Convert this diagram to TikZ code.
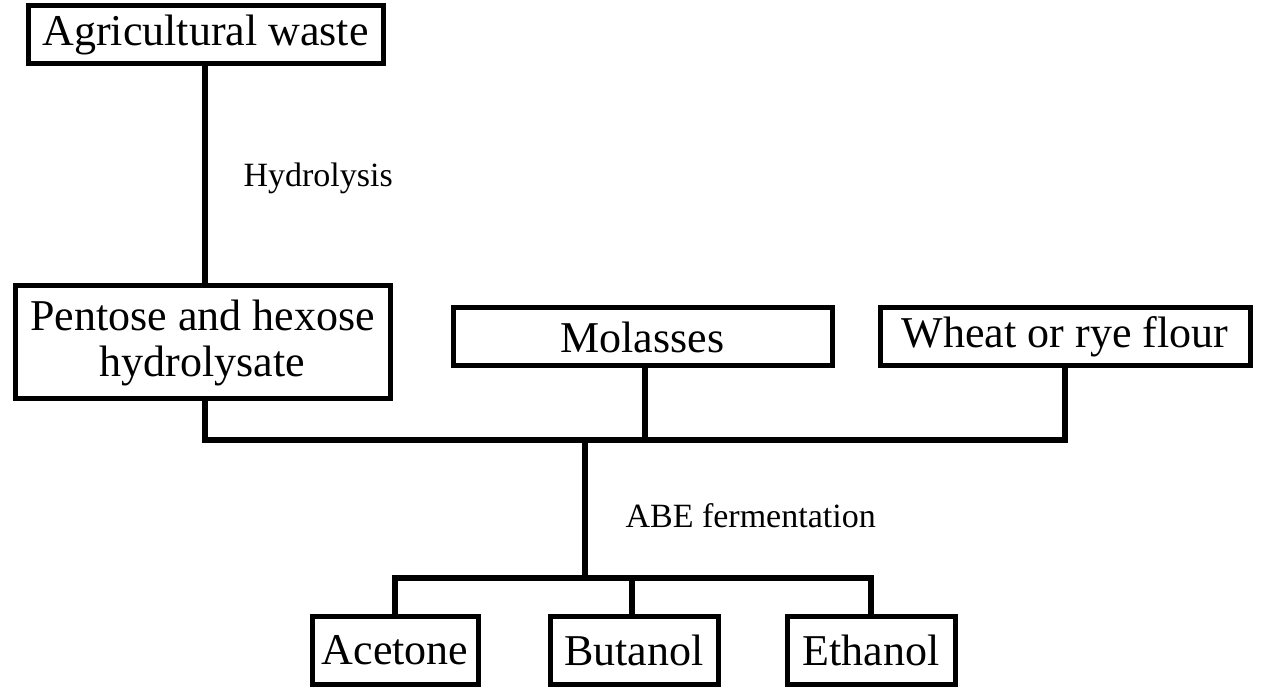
\documentclass[tikz,border=0pt]{standalone}
\usepackage{fontspec}
\setmainfont{Liberation Serif}
\begin{document}
\begin{tikzpicture}[x=1pt,y=-1pt,
  bx/.style={draw,line width=5pt,inner sep=0pt,font=\fontsize{44}{46}\selectfont,align=center},
  ln/.style={line width=6.5pt},
  lbl/.style={font=\fontsize{34}{38}\selectfont,anchor=west}]
\useasboundingbox (0,0) rectangle (1262,692);
\node[bx,minimum width=355,minimum height=58] (agri) at (205.5,35) {Agricultural waste};
\node[bx,minimum width=375,minimum height=113] (pent) at (202.5,342.5) {Pentose and hexose\\hydrolysate};
\node[bx,minimum width=379,minimum height=58] (mol) at (642.5,337) {Molasses};
\node[bx,minimum width=370,minimum height=58] (wheat) at (1065,337) {Wheat or rye flour};
\node[bx,minimum width=166,minimum height=68] (ace) at (395,650) {Acetone};
\node[bx,minimum width=168,minimum height=68] (but) at (634,650) {Butanol};
\node[bx,minimum width=168,minimum height=68] (eth) at (871,650) {Ethanol};
\coordinate (b1) at (585,440);
\coordinate (b2) at (585,578);
\draw[ln] (agri.south -| 205,0) -- (pent.north -| 205,0);
\node[lbl] (hyd) at (240,178) {Hydrolysis};
\draw[ln] (pent.south -| 205,0) -- (205,440) -- (1065,440) -- (wheat.south -| 1065,0);
\draw[ln] (mol.south -| 645,0) -- (645,440);
\draw[ln] (b1) -- (b2);
\node[lbl] (abe) at (622,516) {ABE fermentation};
\draw[ln] (ace.north) -- (395,578) -- (871,578) -- (eth.north);
\draw[ln] (but.north -| 632,0) -- (632,578);
\end{tikzpicture}
\end{document}
